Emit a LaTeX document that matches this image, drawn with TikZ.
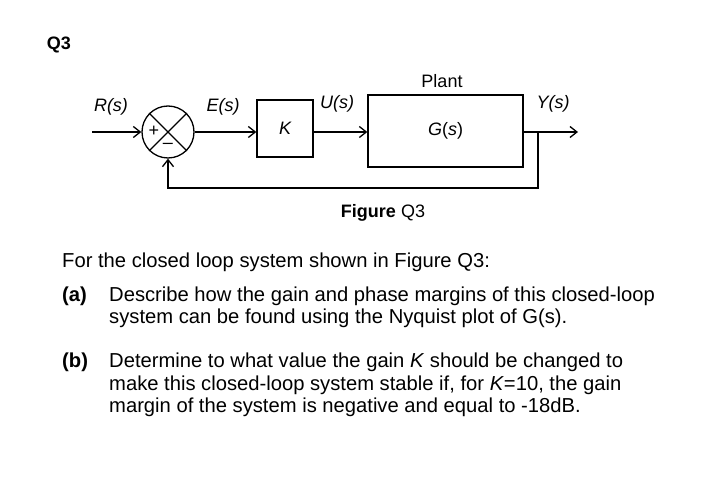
\documentclass[tikz,border=0pt]{standalone}
\usepackage{fontspec}
\setmainfont{Liberation Sans}
\usetikzlibrary{arrows.meta}
\begin{document}
\begin{tikzpicture}[x=1pt,y=-1pt,
  blk/.style={draw,line width=1.3pt,inner sep=0pt},
  sig/.style={line width=1.3pt,-{Straight Barb[length=7pt,width=11pt]}},
  lbl/.style={font=\fontsize{18}{20}\selectfont\itshape},
  txt/.style={font=\fontsize{20.2}{22}\selectfont,anchor=base west,inner sep=0pt}]
  \useasboundingbox (0,0) rectangle (712,502);
  \node[font=\fontsize{18}{20}\selectfont\bfseries] (q) at (59,45) {Q3};
  % blocks
  \node[draw,circle,line width=1.3pt,minimum size=52pt,inner sep=0pt] (sum) at (168,132) {};
  \draw[line width=1.3pt] (sum.north west) -- (sum.south east) (sum.north east) -- (sum.south west);
  \node[font=\fontsize{18}{18}\selectfont] (plus) at (154,131) {+};
  \node[font=\fontsize{18}{18}\selectfont] (minus) at (168,146) {--};
  \node[blk,minimum width=56pt,minimum height=57pt] (k) at (285,128.5) {\fontsize{18}{20}\selectfont\itshape K};
  \node[blk,minimum width=155pt,minimum height=72pt] (g) at (445.5,131) {\fontsize{18}{20}\selectfont\textit{G}(\textit{s})};
  \node[font=\fontsize{18}{20}\selectfont] (plant) at (442,81) {Plant};
  % signals
  \coordinate (in) at (92,132);
  \coordinate (out) at (578,132);
  \coordinate (br) at (538,132);
  \coordinate (fb) at (538,188);
  \coordinate (fb2) at (168,188);
  \draw[sig] (in) -- (sum.west);
  \draw[sig] (sum.east) -- (sum.east -| k.west);
  \draw[sig] (sum.east -| k.east) -- (sum.east -| g.west);
  \draw[sig] (sum.east -| g.east) -- (out);
  \draw[sig] (br) -- (fb) -- (fb2) -- (sum.south);
  \node[lbl] (r) at (111,107) {R(s)};
  \node[lbl] (e) at (223,107) {E(s)};
  \node[lbl] (u) at (337,104) {U(s)};
  \node[lbl] (y) at (553,104) {Y(s)};
  \node[font=\fontsize{18}{20}\selectfont] (fig) at (383,213) {\textbf{Figure} Q3};
  % text
  \node[txt] (t0) at (62,268) {For the closed loop system shown in Figure Q3:};
  \node[txt,font=\fontsize{20.2}{22}\selectfont\bfseries] (a) at (62,302) {(a)};
  \node[txt] (ta1) at (109,302) {Describe how the gain and phase margins of this closed-loop};
  \node[txt] (ta2) at (109,324) {system can be found using the Nyquist plot of G(s).};
  \node[txt,font=\fontsize{20.2}{22}\selectfont\bfseries] (b) at (62,368) {(b)};
  \node[txt] (tb1) at (109,368) {Determine to what value the gain \textit{K} should be changed to};
  \node[txt] (tb2) at (109,390) {make this closed-loop system stable if, for \textit{K}=10, the gain};
  \node[txt] (tb3) at (109,412) {margin of the system is negative and equal to -18dB.};
\end{tikzpicture}
\end{document}
